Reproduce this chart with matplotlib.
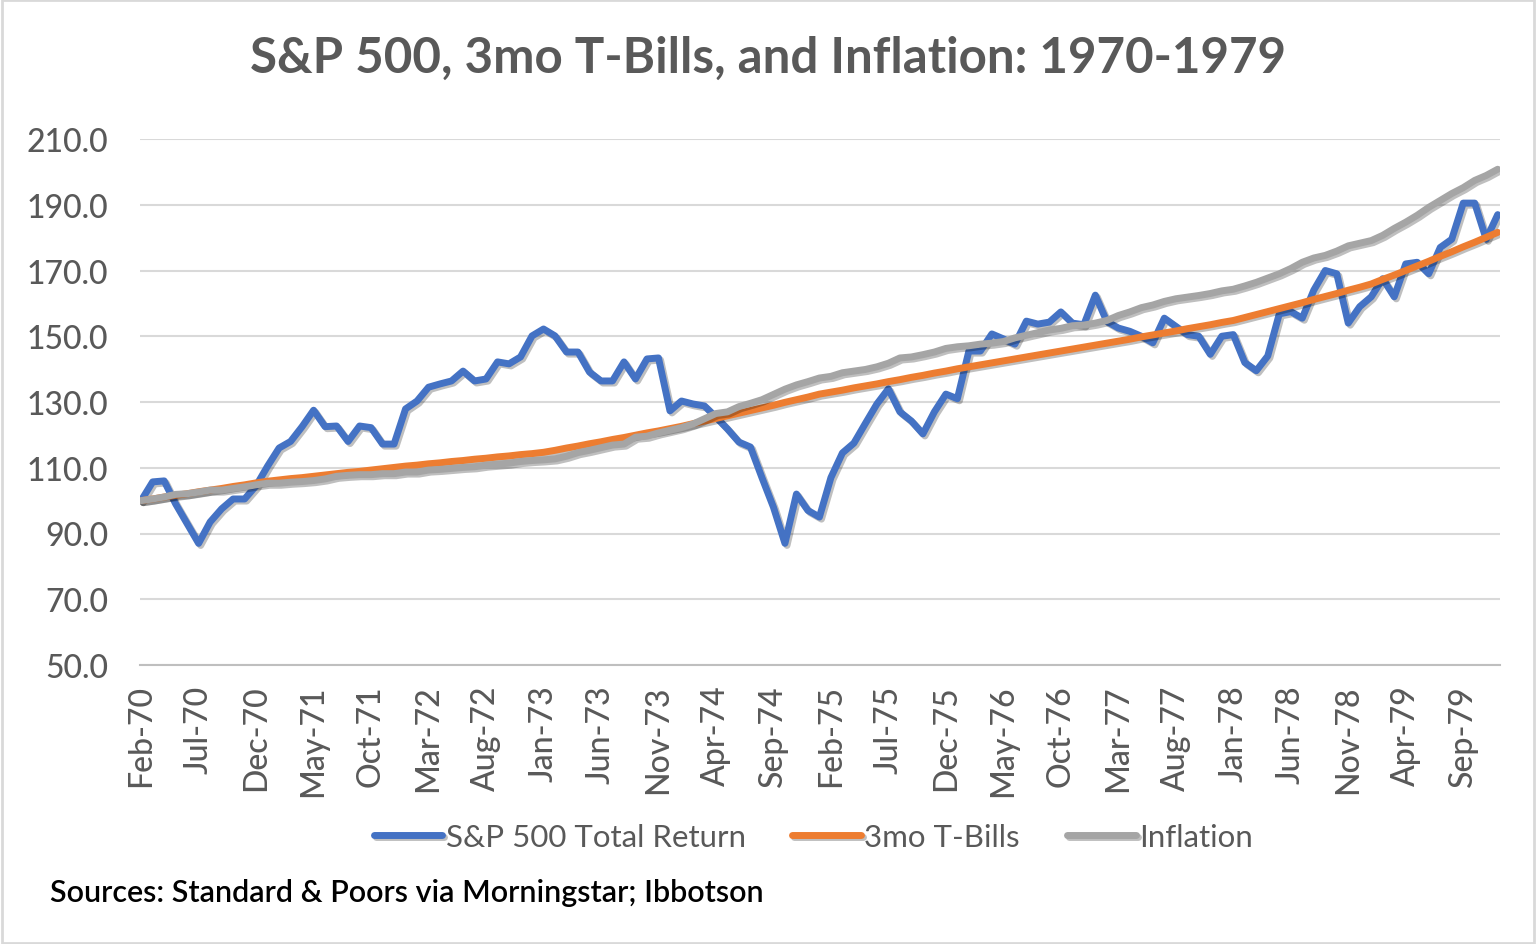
import matplotlib
matplotlib.use('Agg')
import matplotlib.pyplot as plt
import matplotlib.patheffects as pe
from matplotlib.patches import Rectangle

# monthly index values, Feb-70 .. Dec-79 (119 points)
sp500 = [100.0, 105.7, 106.0, 99.0, 93.0, 87.0, 93.5, 97.5, 100.5, 100.5,
         104.5, 110.5, 116.0, 118.0, 122.5, 127.5, 122.5, 122.7, 118.0, 122.7,
         122.2, 117.2, 117.2, 127.9, 130.3, 134.5, 135.5, 136.4, 139.4, 136.4,
         137.0, 142.2, 141.6, 143.7, 150.1, 152.2, 150.1, 145.2, 145.2, 139.1,
         136.4, 136.4, 142.2, 137.0, 143.1, 143.4, 127.3, 130.3, 129.4, 128.8,
         125.4, 121.8, 117.8, 116.3, 107.0, 98.0, 87.0, 102.0, 97.0, 95.0,
         107.0, 114.5, 117.5, 123.5, 129.4, 134.0, 127.0, 124.2, 120.3, 127.0,
         132.4, 131.0, 145.5, 145.5, 150.7, 149.2, 147.6, 154.6, 153.7, 154.3,
         157.4, 154.0, 153.5, 162.5, 154.5, 152.5, 151.5, 150.0, 148.0, 155.5,
         153.0, 150.5, 150.0, 144.5, 150.0, 150.5, 142.0, 139.5, 144.0, 156.8,
         157.5, 155.5, 164.0, 170.0, 169.0, 154.0, 159.0, 162.0, 167.5, 162.0,
         172.0, 172.5, 169.0, 177.0, 179.5, 190.5, 190.5, 179.5, 187.0]

tbills = [100.0, 100.5, 101.1, 101.6, 102.1, 102.7, 103.2, 103.7, 104.3, 104.8, 105.4, 105.9,
          106.3, 106.7, 107.0, 107.4, 107.8, 108.2, 108.6, 108.9, 109.3, 109.7, 110.1, 110.5,
          110.8, 111.2, 111.5, 111.9, 112.2, 112.6, 112.9, 113.3, 113.6, 114.0, 114.3, 114.7,
          115.3, 116.0, 116.6, 117.3, 117.9, 118.6, 119.2, 119.9, 120.6, 121.2, 121.9, 122.6,
          123.4, 124.2, 125.0, 125.8, 126.6, 127.4, 128.2, 129.0, 129.9, 130.7, 131.5, 132.4,
          133.0, 133.6, 134.3, 134.9, 135.5, 136.2, 136.8, 137.5, 138.1, 138.8, 139.4, 140.1,
          140.7, 141.3, 141.9, 142.5, 143.1, 143.7, 144.3, 144.9, 145.5, 146.1, 146.7, 147.3,
          147.9, 148.5, 149.1, 149.8, 150.4, 151.0, 151.6, 152.3, 152.9, 153.5, 154.2, 154.8,
          155.7, 156.6, 157.5, 158.4, 159.3, 160.2, 161.2, 162.1, 163.0, 164.0, 164.9, 165.9,
          167.3, 168.6, 170.0, 171.4, 172.8, 174.3, 175.7, 177.2, 178.6, 180.1, 181.6]

inflation = [100.0, 100.5, 101.1, 101.9, 102.1, 102.6, 103.2, 103.2, 103.7, 104.2, 104.8, 105.3,
             105.3, 105.6, 105.8, 106.1, 106.6, 107.4, 107.7, 107.9, 107.9, 108.2, 108.2, 108.7,
             108.7, 109.3, 109.5, 109.8, 110.1, 110.3, 110.8, 111.1, 111.4, 111.9, 112.2, 112.4,
             112.7, 113.5, 114.6, 115.3, 116.1, 116.9, 117.2, 119.3, 119.6, 120.6, 121.4, 122.2,
             123.3, 124.9, 126.5, 127.0, 128.6, 129.6, 130.7, 132.3, 133.9, 135.2, 136.2, 137.3,
             137.8, 138.9, 139.4, 139.9, 140.7, 141.8, 143.4, 143.7, 144.4, 145.2, 146.3, 146.8,
             147.1, 147.6, 147.9, 148.4, 149.5, 150.3, 151.1, 151.9, 152.4, 153.2, 153.4, 154.0,
             154.8, 156.3, 157.4, 158.7, 159.5, 160.6, 161.4, 161.9, 162.4, 163.0, 163.8, 164.3,
             165.3, 166.4, 167.7, 169.0, 170.6, 172.5, 173.8, 174.6, 175.9, 177.5, 178.3, 179.1,
             180.7, 182.8, 184.7, 186.8, 189.2, 191.3, 193.4, 195.2, 197.4, 198.9, 200.8]

tick_labels = ['Feb-70', 'Jul-70', 'Dec-70', 'May-71', 'Oct-71', 'Mar-72', 'Aug-72', 'Jan-73',
               'Jun-73', 'Nov-73', 'Apr-74', 'Sep-74', 'Feb-75', 'Jul-75', 'Dec-75', 'May-76',
               'Oct-76', 'Mar-77', 'Aug-77', 'Jan-78', 'Jun-78', 'Nov-78', 'Apr-79', 'Sep-79']
y_ticks = [50, 70, 90, 110, 130, 150, 170, 190, 210]

series = [('S&P 500 Total Return', sp500, '#4472C4'),
          ('3mo T-Bills', tbills, '#ED7D31'),
          ('Inflation', inflation, '#A5A5A5')]

plt.rcParams['font.family'] = ['Lato', 'DejaVu Sans']
grey_txt = '#595959'

fig = plt.figure(figsize=(15.36, 9.45), dpi=100)
ax = fig.add_axes([140 / 1536, 1 - 666 / 945, 1360 / 1536, 526 / 945])

x = list(range(len(sp500)))
shadow = [pe.SimpleLineShadow(offset=(1.5, -1.5), alpha=0.25, shadow_color='black'), pe.Normal()]
for name, vals, col in series:
    ax.plot(x, vals, color=col, lw=5, label=name, solid_capstyle='round',
            solid_joinstyle='round', path_effects=shadow)

ax.set_ylim(50, 210)
ax.set_xlim(-0.1, len(sp500) - 0.8)
ax.set_yticks(y_ticks)
ax.set_yticklabels([f'{v:.1f}' for v in y_ticks])
ax.set_xticks(range(0, len(sp500), 5))
ax.set_xticklabels(tick_labels, rotation=90)
ax.tick_params(axis='y', length=0, pad=23, labelsize=23, labelcolor=grey_txt)
ax.tick_params(axis='x', length=0, pad=14, labelsize=23, labelcolor=grey_txt)
for lbl in ax.get_xticklabels() + ax.get_yticklabels():
    lbl.set_fontweight('medium')
ax.grid(axis='y', color='#D9D9D9', lw=1.5)
ax.set_axisbelow(True)
for s in ['top', 'right', 'left']:
    ax.spines[s].set_visible(False)
ax.spines['bottom'].set_color('#BFBFBF')
ax.spines['bottom'].set_linewidth(1.5)

fig.text(0.5, 1 - 58 / 945, 'S&P 500, 3mo T-Bills, and Inflation: 1970-1979',
         ha='center', va='center', fontsize=35.5, color=grey_txt, fontweight='bold')

fig.legend(loc='center', bbox_to_anchor=(813 / 1536, 1 - 838 / 945), ncol=3, frameon=False,
           fontsize=22.5, handlelength=2.2, handletextpad=0.1, columnspacing=1.5,
           labelcolor=grey_txt)

fig.text(50 / 1536, 1 - 893 / 945, 'Sources: Standard & Poors via Morningstar; Ibbotson',
         ha='left', va='center', fontsize=22, color='black', fontweight='semibold')

fig.patches.append(Rectangle((0.001, 0.001), 0.998, 0.998, transform=fig.transFigure,
                             fill=False, edgecolor='#D9D9D9', lw=2))

fig.savefig('out.png', dpi=100, facecolor='white')
